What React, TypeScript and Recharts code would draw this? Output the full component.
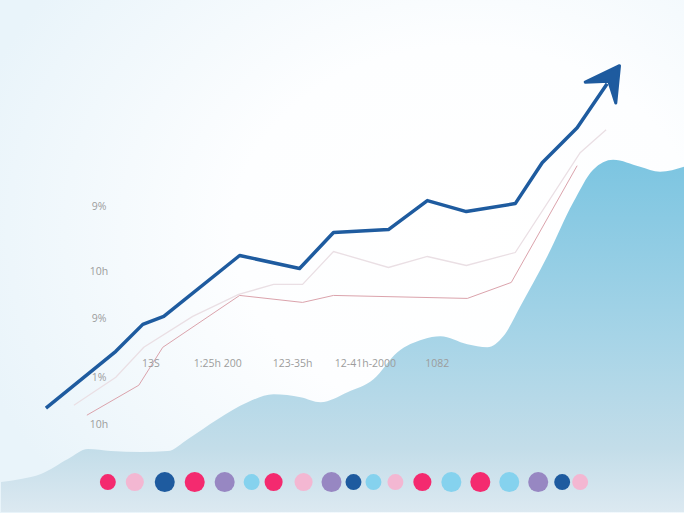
import { ComposedChart, Line, Area, Scatter, XAxis, YAxis, ZAxis, Cell } from 'recharts';

// level = height above the bottom edge of the chart
const mainX = [45, 115, 142, 163, 239, 299, 333, 388, 427, 466, 515, 542, 577, 607];
const mainLevel = [104, 161, 188, 196, 257, 244, 280, 283, 312, 301, 309, 350, 385, 429];

const paleX = [73, 115, 143, 192, 238, 273, 302, 333, 388, 427, 466, 515, 580, 606];
const paleLevel = [107, 135, 165, 196, 218, 228, 228, 261, 245, 256, 247, 260, 360, 383];

const roseX = [86, 138, 162, 239, 302, 333, 467, 511, 577];
const roseLevel = [97, 127, 165, 217, 210, 217, 214, 230, 347];

const waveX = [0, 20, 40, 67, 87, 110, 140, 167, 187, 217, 247, 273, 300, 320, 347, 373, 397, 423, 440, 467, 487, 503, 520, 547, 573, 593, 613, 640, 660, 684];
const waveLevel = [30, 33, 38, 53, 63, 61, 60, 61, 73, 93, 110, 118, 115, 110, 120, 133, 160, 173, 176, 168, 165, 176, 206, 256, 310, 343, 353, 346, 341, 346];

const yTickLevels = [307, 241, 194, 135, 88];
const yTickLabels = ['9%', '10h', '9%', '1%', '10h'];

const xTickValues = [150, 217, 292, 365, 437];
const xTickLabels = ['13S', '1:25h 200', '123-35h', '12-41h-2000', '1082'];

const dotX = [107, 134, 164, 194, 224, 251, 273, 303, 331, 353, 373, 395, 422, 451, 480, 509, 538, 562, 580];
const dotLevel = 30;
const dotWeight = [1, 2, 3, 3, 3, 1, 2, 2, 3, 1, 1, 1, 2, 3, 3, 3, 3, 1, 1];
const dotKind = ['rose', 'blush', 'navy', 'rose', 'lilac', 'sky', 'rose', 'blush', 'lilac', 'navy', 'sky', 'blush', 'rose', 'sky', 'rose', 'sky', 'lilac', 'navy', 'blush'];

const palette: Record<string, string> = {
  rose: '#f42a6f',
  blush: '#f3b7d2',
  navy: '#1e5b9f',
  lilac: '#9787c2',
  sky: '#85d2ee',
};

const zip = (xs: number[], ys: number[]) => xs.map((x, i) => ({ x, v: ys[i] }));

const mainData = zip(mainX, mainLevel);
const paleData = zip(paleX, paleLevel);
const roseData = zip(roseX, roseLevel);
const waveData = zip(waveX, waveLevel);
const dotData = dotX.map((x, i) => ({ x, v: dotLevel, w: dotWeight[i], kind: dotKind[i] }));

function ArrowDot(props: any) {
  const { cx, cy, index, points } = props;
  if (index !== mainData.length - 1) return <g key={`d-${index}`} />;
  let dx = 30;
  let dy = -44;
  if (points && points.length > 1) {
    const p = points[points.length - 2];
    dx = cx - p.x;
    dy = cy - p.y;
  }
  const len = Math.hypot(dx, dy);
  const ux = dx / len;
  const uy = dy / len;
  const nx = -uy;
  const ny = ux;
  const tip = [cx + ux * 22, cy + uy * 22];
  const at = (a: number, b: number) => `${tip[0] + ux * a + nx * b},${tip[1] + uy * a + ny * b}`;
  const pts = [at(0, 0), at(-33, -19), at(-19, 0), at(-33, 18)].join(' ');
  return (
    <g key={`d-${index}`}>
      <polygon points={pts} fill="#1e5b9f" stroke="#1e5b9f" strokeWidth={3} strokeLinejoin="round" />
    </g>
  );
}

const YTick = (props: any) => (
  <text x={99} y={props.y} dy={4} textAnchor="middle" fontSize={10.5} fill="#9c9c9c" fontFamily="Open Sans, sans-serif">
    {yTickLabels[props.index]}
  </text>
);

const XTick = (props: any) => (
  <text x={props.x} y={363} dy={4} textAnchor="middle" fontSize={10.5} fill="#9c9c9c" fontFamily="Open Sans, sans-serif">
    {xTickLabels[props.index]}
  </text>
);

export default function App() {
  return (
    <div
      style={{
        position: 'absolute',
        left: 0,
        top: 0,
        width: 684,
        height: 513,
        background: 'radial-gradient(ellipse 75% 80% at 68% 45%, #ffffff 0%, #fdfeff 45%, #e9f4fa 100%)',
      }}
    >
      <ComposedChart width={684} height={513} margin={{ top: 0, right: 0, bottom: 0, left: 0 }}>
        <defs>
          <linearGradient id="waveFill" x1="0" y1="0" x2="0" y2="1">
            <stop offset="0%" stopColor="#7cc5e1" />
            <stop offset="50%" stopColor="#a6d4e7" />
            <stop offset="82%" stopColor="#c3dde9" />
            <stop offset="100%" stopColor="#dce9f1" />
          </linearGradient>
        </defs>
        <XAxis
          type="number"
          dataKey="x"
          domain={[0, 684]}
          ticks={xTickValues}
          interval={0}
          height={1}
          axisLine={false}
          tickLine={false}
          tick={<XTick />}
          allowDataOverflow
        />
        <YAxis
          type="number"
          domain={[0, 513]}
          ticks={yTickLevels}
          interval={0}
          width={1}
          axisLine={false}
          tickLine={false}
          tick={<YTick />}
          allowDataOverflow
        />
        <ZAxis type="number" dataKey="w" domain={[1, 3]} range={[200, 315]} />
        <Area
          data={waveData}
          dataKey="v"
          type="monotone"
          stroke="none"
          fill="url(#waveFill)"
          fillOpacity={1}
          baseValue={0}
          activeDot={false}
          isAnimationActive={false}
        />
        <Line data={paleData} dataKey="v" type="linear" stroke="#eadfe4" strokeWidth={1.3} dot={false} activeDot={false} isAnimationActive={false} />
        <Line data={roseData} dataKey="v" type="linear" stroke="#dba3ac" strokeWidth={1} dot={false} activeDot={false} isAnimationActive={false} />
        <Line
          data={mainData}
          dataKey="v"
          type="linear"
          stroke="#1e5b9f"
          strokeWidth={3.5}
          strokeLinejoin="round"
          dot={ArrowDot}
          activeDot={false}
          isAnimationActive={false}
        />
        <Scatter data={dotData} dataKey="v" shape="circle" isAnimationActive={false}>
          {dotData.map((d, i) => (
            <Cell key={`c-${i}`} fill={palette[d.kind]} />
          ))}
        </Scatter>
      </ComposedChart>
    </div>
  );
}
